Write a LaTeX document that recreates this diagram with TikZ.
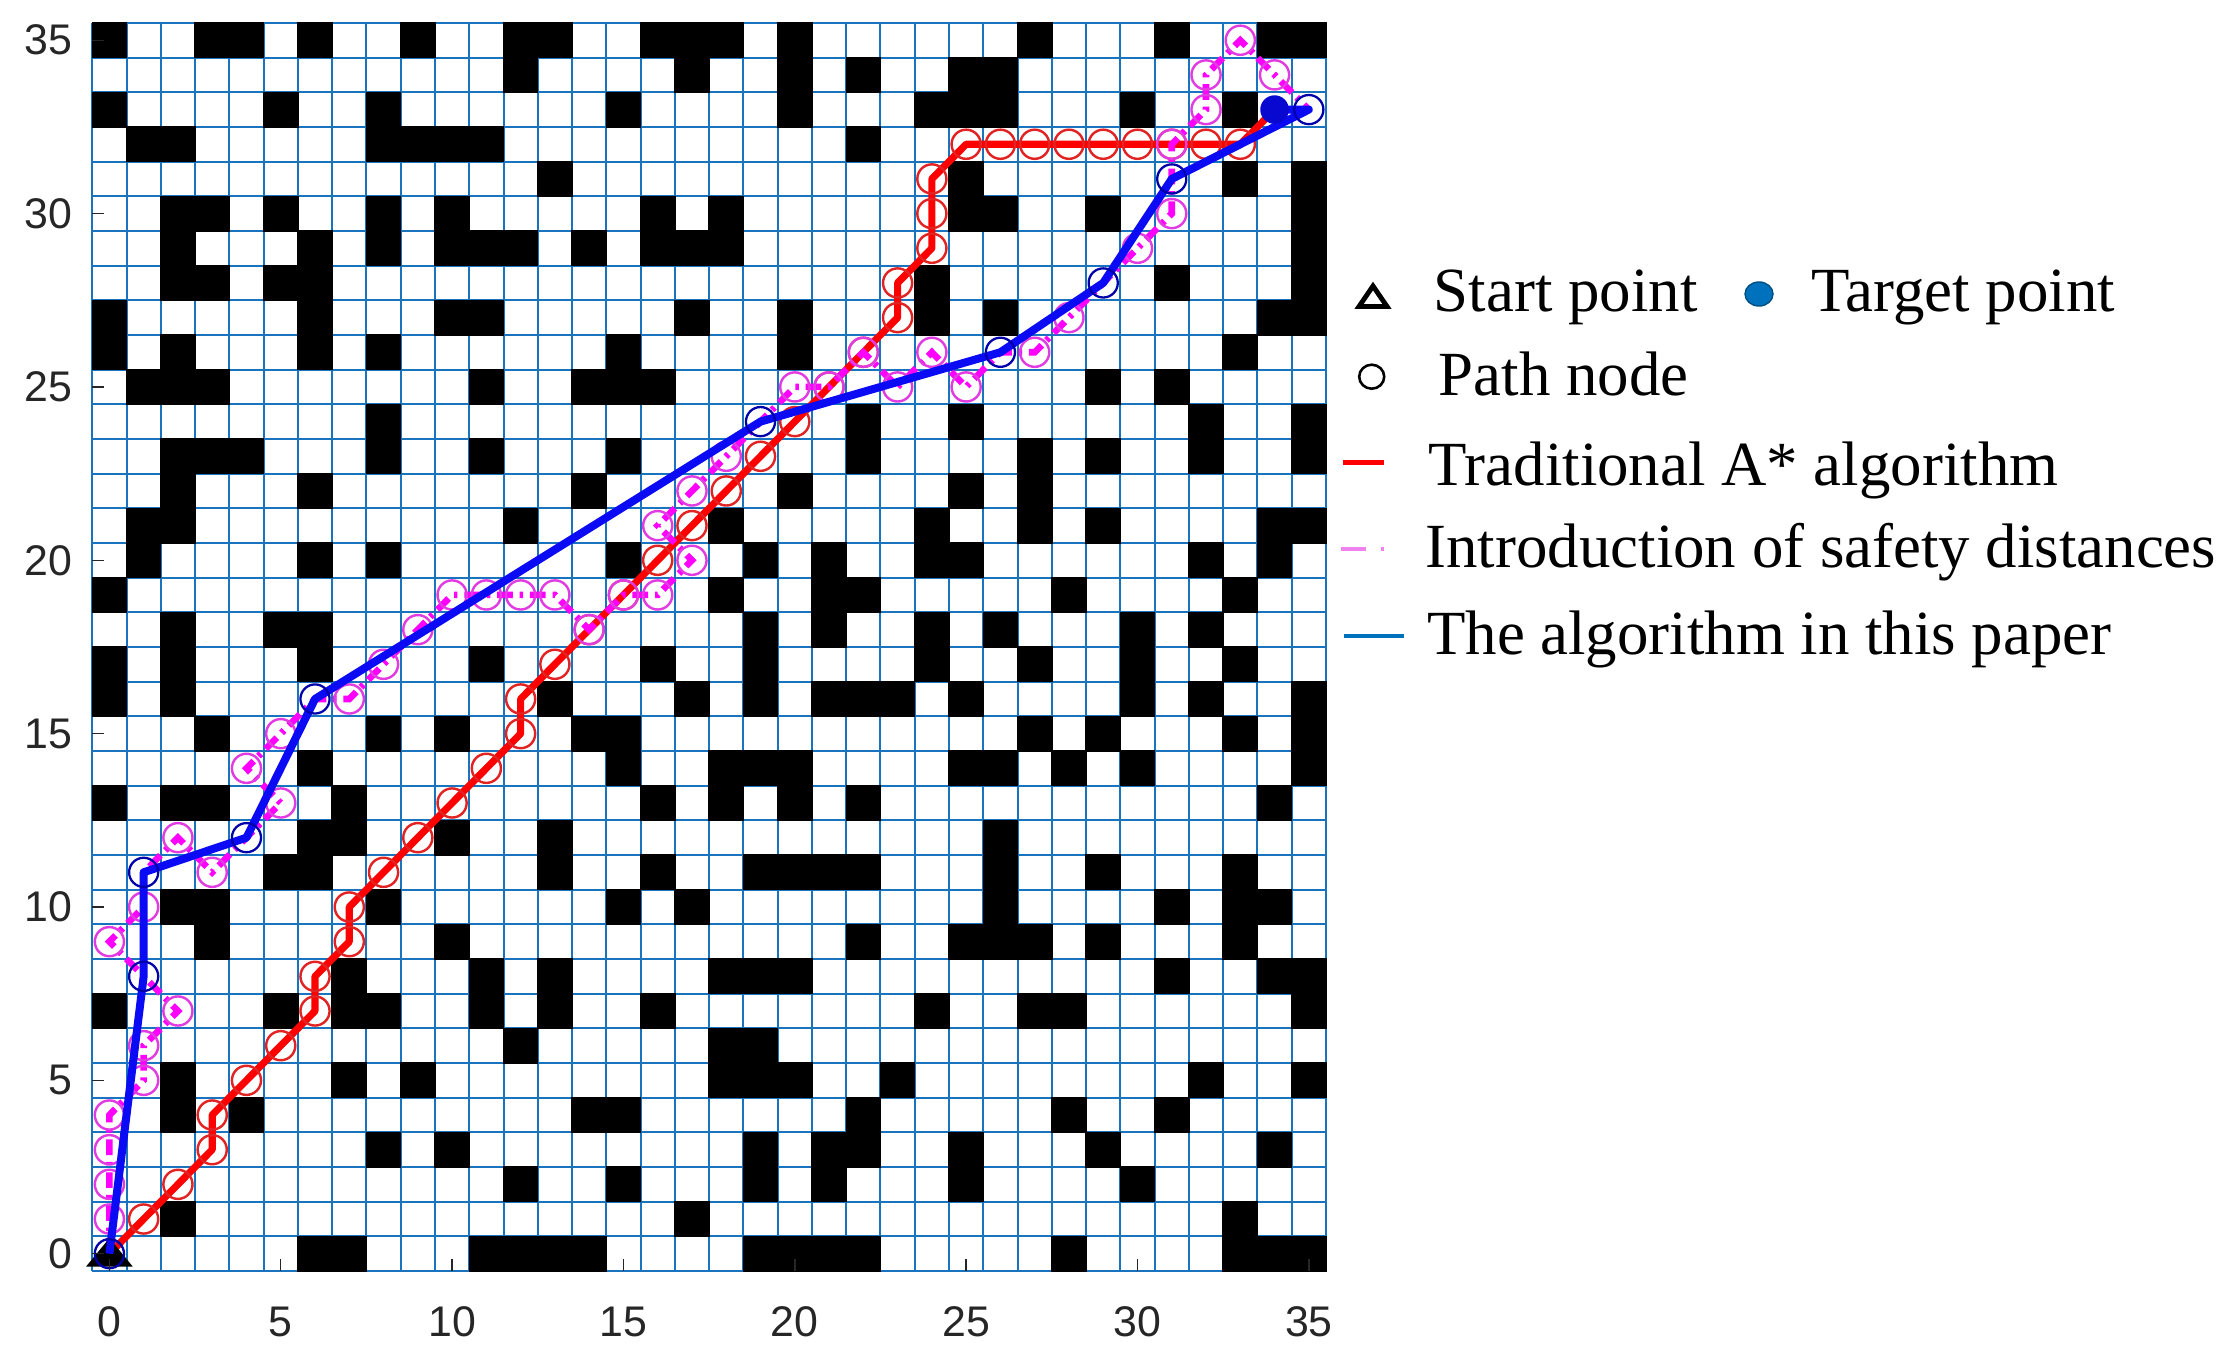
\documentclass[tikz,border=0pt]{standalone}
\usepackage{fontspec}
\setmainfont{Liberation Serif}
\newfontfamily\axisfont{Liberation Sans}
\definecolor{gridblue}{RGB}{25,115,190}
\definecolor{pathred}{RGB}{255,0,0}
\definecolor{nodered}{RGB}{225,35,35}
\definecolor{pathmag}{RGB}{255,0,255}
\definecolor{nodemag}{RGB}{225,60,225}
\definecolor{pathblue}{RGB}{10,10,245}
\definecolor{nodeblue}{RGB}{0,0,170}
\definecolor{legblue}{RGB}{0,114,189}
\definecolor{legpink}{RGB}{238,130,238}
\definecolor{ticktext}{RGB}{38,38,38}
\tikzset{
  gridline/.style={gridblue,line width=0.7pt},
  obst/.style={fill=black},
  redpath/.style={pathred,line width=2.5pt,line join=round},
  magpath/.style={pathmag,line width=2.3pt,dash pattern=on 5.5pt off 2.4pt on 1.2pt off 2.4pt},
  bluepath/.style={pathblue,line width=2.8pt,line join=round},
  rednode/.style={nodered,line width=0.85pt},
  magnode/.style={nodemag,line width=0.85pt},
  bluenode/.style={nodeblue,line width=0.8pt},
  tickmark/.style={ticktext,line width=0.5pt},
  ticklab/.style={font=\axisfont\fontsize{15}{17}\selectfont,text=ticktext,inner sep=0pt},
  legtext/.style={font=\fontsize{22}{26}\selectfont,inner sep=0pt,anchor=base west},
  legline/.style={line width=1.7pt},
}
\begin{document}
\begin{tikzpicture}[x=11.9945pt,y=12.1345pt]
% frame in pixel units
\begin{scope}[x=0.35pt,y=-0.35pt,shift={(-38.29pt,438.795pt)}]
  \fill[white] (0,0) rectangle (2236,1363);
  \useasboundingbox (0,0) rectangle (2236,1363);
\end{scope}
% grid
\foreach \k in {0,...,36} {
  \draw[gridline] (\k-0.5,-0.5) -- (\k-0.5,35.5);
  \draw[gridline] (-0.5,\k-0.5) -- (35.5,\k-0.5);
}
% obstacles
\foreach \r/\cs in {
 35/{0,3,4,6,9,12,13,16,17,18,20,27,31,34,35},
 34/{12,17,20,22,25,26},
 33/{0,5,8,15,20,24,25,26,30,33},
 32/{1,2,8,9,10,11,22},
 31/{13,25,33,35},
 30/{2,3,5,8,10,16,18,25,26,29,35},
 29/{2,6,8,10,11,12,14,16,17,18,35},
 28/{2,3,5,6,24,31,35},
 27/{0,6,10,11,17,20,24,26,34,35},
 26/{0,2,6,8,15,20,33},
 25/{1,2,3,11,14,15,16,29,31},
 24/{8,22,25,32,35},
 23/{2,3,4,8,11,15,22,27,29,32,35},
 22/{2,6,14,20,25,27},
 21/{1,2,12,18,24,27,29,34,35},
 20/{1,6,8,15,19,21,24,25,32,34},
 19/{0,18,21,22,28,33},
 18/{2,5,6,19,21,24,26,30,32},
 17/{0,2,6,11,16,19,24,27,30,33},
 16/{0,2,13,17,19,21,22,23,25,30,32,35},
 15/{3,8,10,14,15,27,29,33,35},
 14/{6,15,18,19,20,25,26,28,30,35},
 13/{0,2,3,7,16,18,20,22,34},
 12/{6,7,10,13,26},
 11/{5,6,13,16,19,20,21,22,26,29,33},
 10/{2,3,8,15,17,26,31,33,34},
 9/{3,10,22,25,26,27,29,33},
 8/{7,11,13,18,19,20,31,34,35},
 7/{0,5,7,8,11,13,16,24,27,28,35},
 6/{12,18,19},
 5/{2,7,9,18,19,20,23,32,35},
 4/{2,4,14,15,22,28,31},
 3/{8,10,19,21,22,25,29,34},
 2/{12,15,19,21,25,30},
 1/{2,17,33},
 0/{6,7,11,12,13,14,19,20,21,22,28,33,34,35}}{
  \foreach \c in \cs {
    \fill[obst] (\c-0.52,\r-0.52) rectangle (\c+0.52,\r+0.52);
  }
}
% traditional A*
\draw[redpath] (0,0)--(1,1)--(2,2)--(3,3)--(3,4)--(4,5)--(5,6)--(6,7)--(6,8)--(7,9)--(7,10)--(8,11)--(9,12)--(10,13)--(11,14)--(12,15)--(12,16)--(13,17)--(14,18)--(15,19)--(16,20)--(17,21)--(18,22)--(19,23)--(20,24)--(21,25)--(22,26)--(23,27)--(23,28)--(24,29)--(24,30)--(24,31)--(25,32)--(33,32)--(34,33);
\foreach \p in {(1,1),(2,2),(3,3),(3,4),(4,5),(5,6),(6,7),(6,8),(7,9),(7,10),(8,11),(9,12),(10,13),(11,14),(12,15),(12,16),(13,17),(14,18),(15,19),(16,20),(17,21),(18,22),(19,23),(20,24),(21,25),(22,26),(23,27),(23,28),(24,29),(24,30),(24,31),(25,32),(26,32),(27,32),(28,32),(29,32),(30,32),(31,32),(32,32),(33,32)}
  \draw[rednode] \p circle[radius=5.1pt];
% safety distances
\draw[magpath] (0,0)--(0,4)--(1,5)--(1,6)--(2,7)--(1,8)--(0,9)--(1,10)--(1,11)--(2,12)--(3,11)--(4,12)--(5,13)--(4,14)--(5,15)--(6,16)--(7,16)--(8,17)--(9,18)--(10,19)--(13,19)--(14,18)--(15,19)--(16,19)--(17,20)--(16,21)--(17,22)--(18,23)--(19,24)--(20,25)--(21,25)--(22,26)--(23,25)--(24,26)--(25,25)--(26,26)--(27,26)--(28,27)--(29,28)--(30,29)--(31,30)--(31,32)--(32,33)--(32,34)--(33,35)--(34,34)--(35,33);
\foreach \p in {(0,1),(0,2),(0,3),(0,4),(1,5),(1,6),(2,7),(0,9),(1,10),(2,12),(3,11),(5,13),(4,14),(5,15),(7,16),(8,17),(9,18),(10,19),(11,19),(12,19),(13,19),(14,18),(15,19),(16,19),(17,20),(16,21),(17,22),(18,23),(20,25),(21,25),(22,26),(23,25),(24,26),(25,25),(27,26),(28,27),(30,29),(31,30),(31,32),(32,33),(32,34),(33,35),(34,34)}
  \draw[magnode] \p circle[radius=5.1pt];
% start point
\fill[black] (-0.68,-0.37) -- (0.68,-0.37) -- (0,0.45) -- cycle;
% proposed algorithm
\draw[bluepath] (0,0)--(1,8)--(1,11)--(4,12)--(6,16)--(19,24)--(26,26)--(29,28)--(31,31)--(35,33)--(34,33);
\foreach \p in {(0,0),(1,8),(1,11),(4,12),(6,16),(19,24),(26,26),(29,28),(31,31),(35,33)}
  \draw[bluenode] \p circle[radius=5.1pt];
% target point
\fill[pathblue!85!black] (34,33) circle[radius=5pt];
% ticks
\foreach \i in {0,5,...,35} {
  \draw[tickmark] (\i,-0.5) -- (\i,-0.15);
  \draw[tickmark] (-0.5,\i) -- (-0.15,\i);
  \node[ticklab,anchor=center] (xt\i) at (\i,-1.96) {\i};
  \node[ticklab,anchor=east] (yt\i) at (-1.06,\i) {\i};
}
% legend (pixel units)
\begin{scope}[x=0.35pt,y=-0.35pt,shift={(-38.29pt,438.795pt)}]
  \draw[black,line width=1.7pt,line join=miter] (1373,286) -- (1387,306.5) -- (1359,306.5) -- cycle;
  \filldraw[fill=legblue,draw=legblue!70!black,line width=0.5pt] (1759,294) ellipse [x radius=14, y radius=12];
  \draw[black,line width=0.9pt] (1371.7,376.7) ellipse [x radius=12.5, y radius=12];
  \draw[pathred,legline] (1342.5,462.5) -- (1384,462.5);
  \draw[legpink,legline] (1340.7,549) -- (1366.2,549);
  \draw[legpink,legline] (1381,549) -- (1384,549);
  \draw[legblue,legline] (1343.7,636) -- (1404,636);
  \node[legtext] (lstart) at (1433.3,311.7) {Start point};
  \node[legtext] (ltarget) at (1811,311.7) {Target point};
  \node[legtext] (lnode) at (1438.3,395) {Path node};
  \node[legtext] (lred) at (1428,485) {Traditional A* algorithm};
  \node[legtext] (lmag) at (1425,567.3) {Introduction of safety distances};
  \node[legtext] (lblue) at (1426.6,654) {The algorithm in this paper};
\end{scope}
\end{tikzpicture}
\end{document}
